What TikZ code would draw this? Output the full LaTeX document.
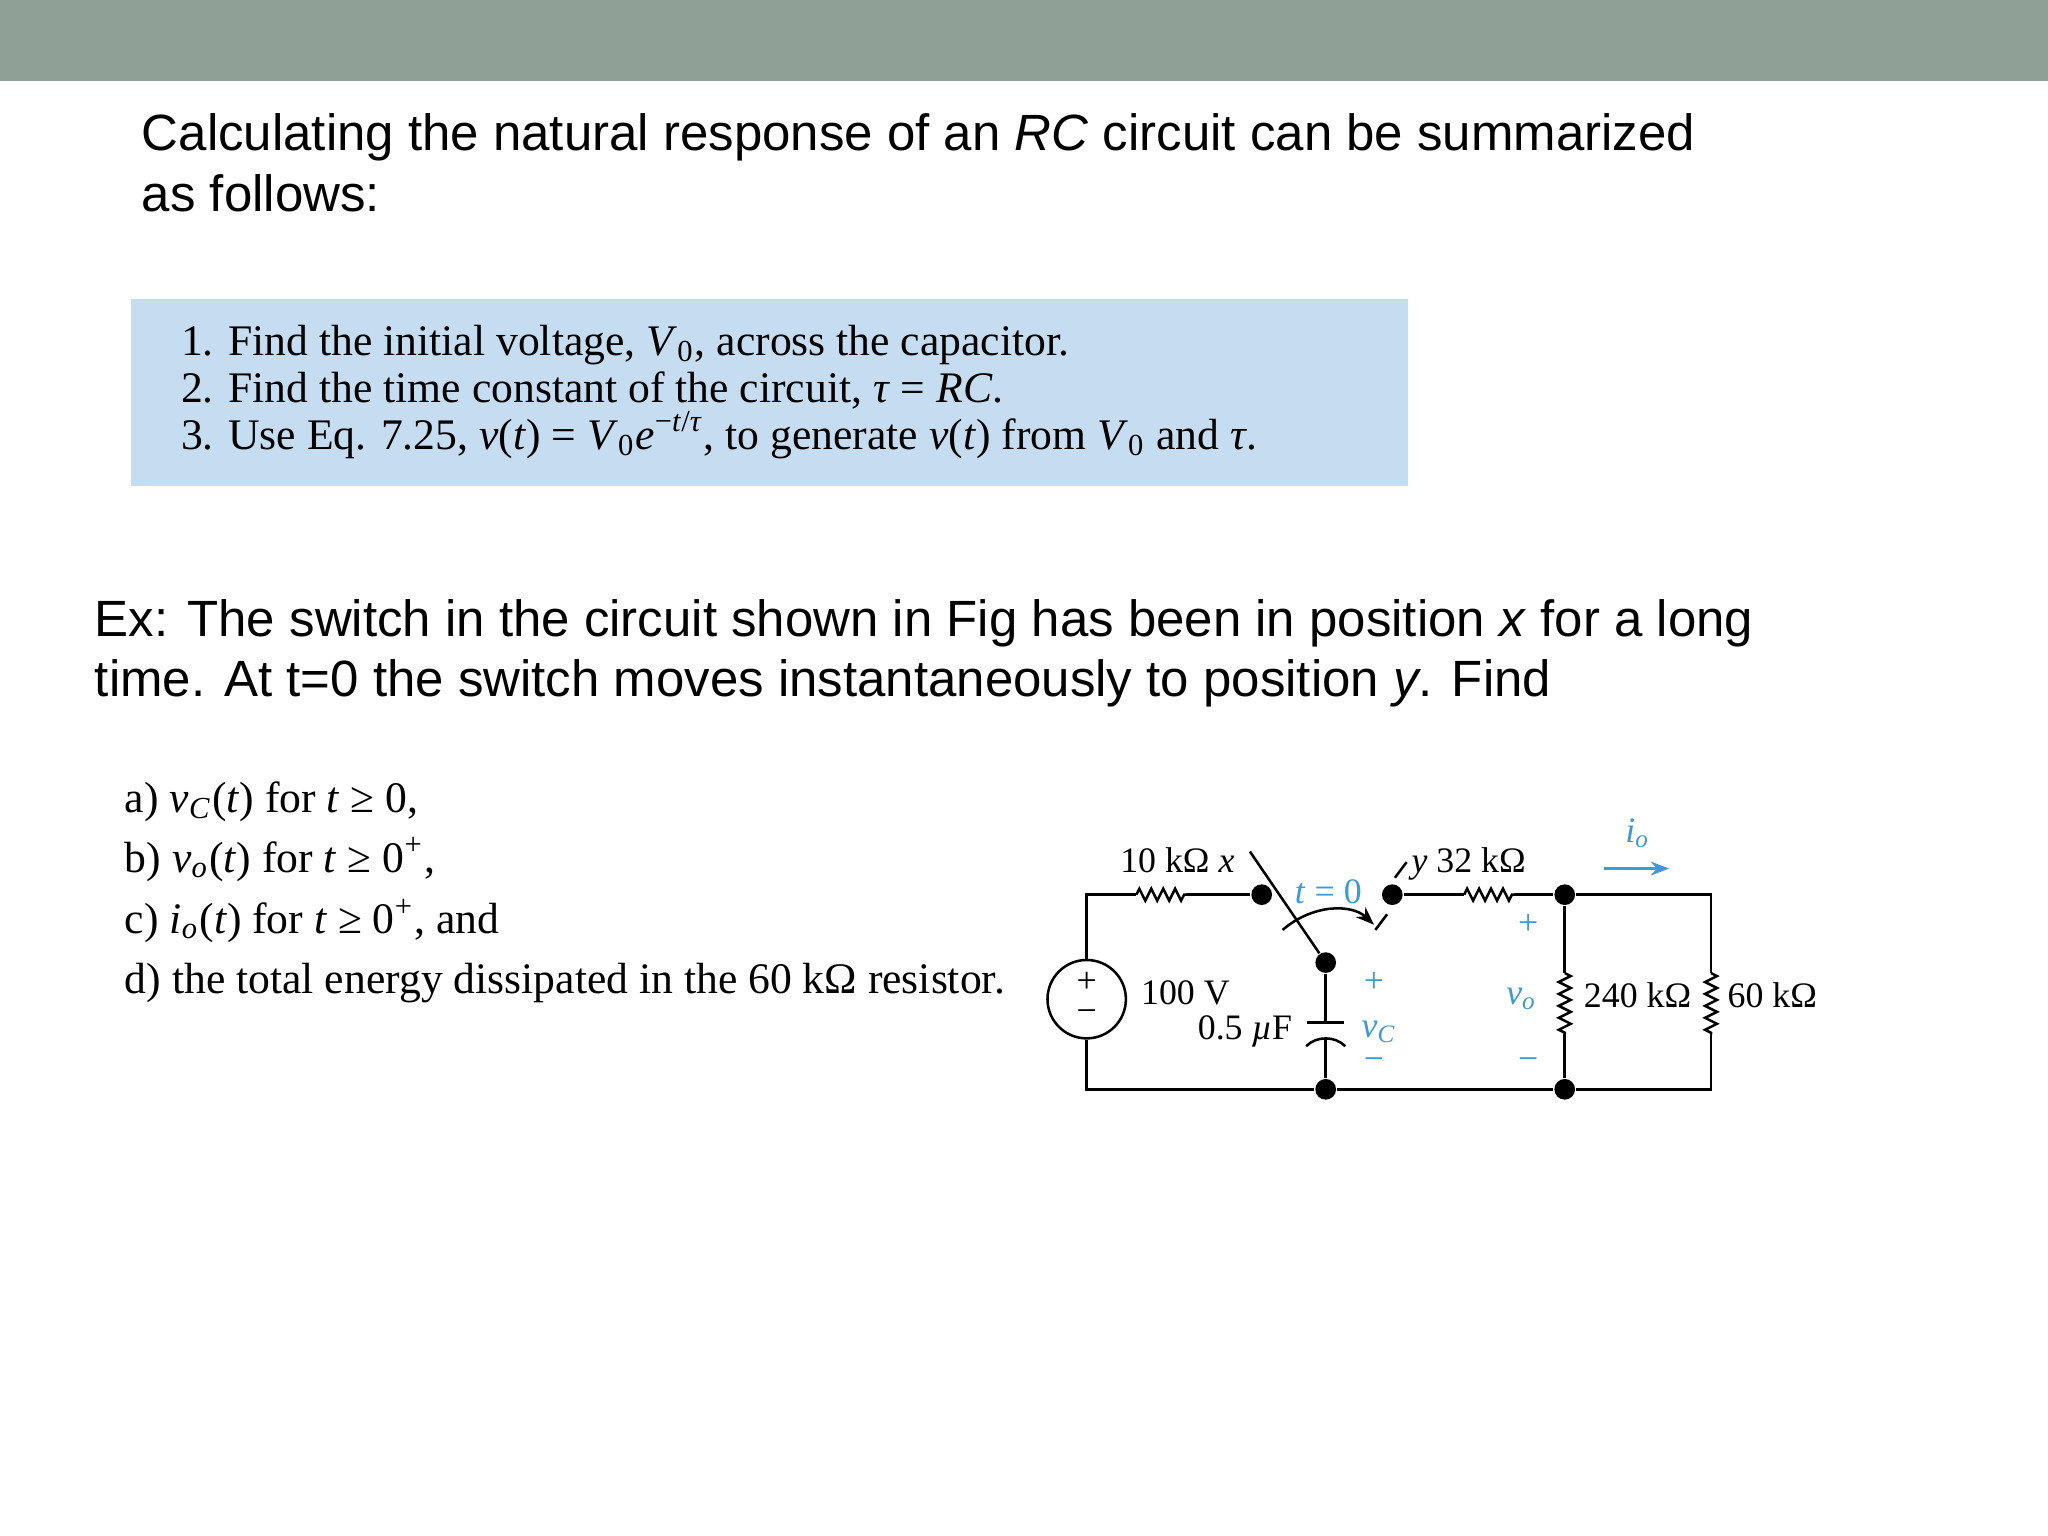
\documentclass[tikz,border=0pt]{standalone}
\usepackage{fontspec}
\setmainfont{Liberation Serif}
\newfontfamily\hsans{Liberation Sans}
\usetikzlibrary{decorations.pathmorphing,arrows.meta}
\definecolor{band}{HTML}{8FA096}
\definecolor{boxblue}{HTML}{C6DDF1}
\definecolor{cblue}{HTML}{3E9AD0}
\tikzset{
  head/.style={anchor=base west,inner sep=0,font=\hsans\fontsize{11.1}{13}\selectfont},
  boxt/.style={anchor=base west,inner sep=0,font=\fontsize{9.5}{11}\selectfont},
  ct/.style={inner sep=0,font=\fontsize{7.8}{9}\selectfont},
  bt/.style={inner sep=0,text=cblue,font=\fontsize{7.8}{9}\selectfont},
  wire/.style={line width=0.55pt},
  res/.style={wire,decorate,decoration={zigzag,segment length=2.6pt,amplitude=1.3pt}},
  dot/.style={circle,fill,inner sep=0,minimum size=4.5pt}
}
\begin{document}
\begin{tikzpicture}[x=0.01cm,y=-0.01cm]
\useasboundingbox (0,0) rectangle (1568,1176);
\fill[band] (0,0) rectangle (1568,62);
\node[head] (h1) at (108,115) {Calculating the natural response of an \textit{RC} circuit can be summarized};
\node[head] (h2) at (108,162) {as follows:};
\fill[boxblue] (100,229) rectangle (1078,372);
\node[boxt] (b1) at (138,272) {1. Find the initial voltage, \textit{V}\textsubscript{0}, across the capacitor.};
\node[boxt] (b2) at (138,308) {2. Find the time constant of the circuit, \textit{τ} = \textit{RC}.};
\node[boxt] (b3) at (138,344) {3. Use Eq. 7.25, \textit{v}(\textit{t}) = \textit{V}\textsubscript{0}\textit{e}\textsuperscript{−\textit{t}/\textit{τ}}, to generate \textit{v}(\textit{t}) from \textit{V}\textsubscript{0} and \textit{τ}.};
\node[head] (e1) at (72,487) {Ex: The switch in the circuit shown in Fig has been in position \textit{x} for a long};
\node[head] (e2) at (72,533) {time. At t=0 the switch moves instantaneously to position \textit{y}. Find};
\node[boxt] (l1) at (95,622) {a) \textit{v}\textsubscript{\textit{C}}(\textit{t}) for \textit{t} ≥ 0,};
\node[boxt] (l2) at (95,668) {b) \textit{v}\textsubscript{\textit{o}}(\textit{t}) for \textit{t} ≥ 0\textsuperscript{+},};
\node[boxt] (l3) at (95,715) {c) \textit{i}\textsubscript{\textit{o}}(\textit{t}) for \textit{t} ≥ 0\textsuperscript{+}, and};
\node[boxt] (l4) at (95,761) {d) the total energy dissipated in the 60 kΩ resistor.};
% circuit
\coordinate (tl) at (832,685);
\coordinate (bl) at (832,834);
\coordinate (r1a) at (870,685);
\coordinate (r1b) at (908,685);
\node[dot] (nx) at (966,685) {};
\node[dot] (np) at (1015,737) {};
\node[dot] (ny) at (1066,685) {};
\coordinate (r2a) at (1121,685);
\coordinate (r2b) at (1159,685);
\node[dot] (nt) at (1198,685) {};
\coordinate (tr) at (1310,685);
\node[dot] (nb1) at (1015,834) {};
\node[dot] (nb2) at (1198,834) {};
\coordinate (br) at (1310,834);
\node[draw,wire,circle,minimum size=60pt*0.2845,inner sep=0] (src) at (832,765) {};
\coordinate (c1) at (1015,783);
\coordinate (r3a) at (1198,745);
\coordinate (r3b) at (1198,792);
\coordinate (r4a) at (1310,745);
\coordinate (r4b) at (1310,792);
\draw[wire] (src.north) -- (tl) -- (r1a);
\draw[res] (r1a) -- (r1b);
\draw[wire] (r1b) -- (nx);
\draw[wire] (ny) -- (r2a);
\draw[res] (r2a) -- (r2b);
\draw[wire] (r2b) -- (nt) -- (tr) -- (r4a);
\draw[res] (r4a) -- (r4b);
\draw[wire] (r4b) -- (br) -- (nb2) -- (nb1) -- (bl) -- (src.south);
\draw[wire] (nt) -- (r3a);
\draw[res] (r3a) -- (r3b);
\draw[wire] (r3b) -- (nb2);
\draw[wire] (np) -- (c1);
\draw[wire] (1001,783) -- (1029,783);
\draw[wire] (1000,801) .. controls (1008,793) and (1022,793) .. (1030,801);
\draw[wire] (1015,794) -- (nb1);
\coordinate (sw) at (957,652);
\draw[wire] (np) -- (sw);
\coordinate (sy1) at (1053,712);
\coordinate (sy2) at (1062,700);
\draw[wire] (sy1) -- (sy2);
\coordinate (aa) at (982,712);
\coordinate (ab) at (1052,708);
\draw[wire,-{Stealth[length=4pt]}] (aa) .. controls (1005,692) and (1035,692) .. (ab);
\node[ct] at (832,752) {+};
\node[ct] at (832,778) {−};
\node[ct,anchor=west] (lv) at (873,760) {100 V};
\node[ct,anchor=east] (lc) at (990,790) {0.5 \textit{µ}F};
\node[ct,anchor=base west] (lr1) at (857,668) {10 kΩ \textit{x}};
\node[ct,anchor=base west] (lr2) at (1080,668) {\textit{y} 32 kΩ};
\draw[wire] (1068,672) -- (1077,660);
\node[ct,anchor=west] (lr3) at (1212,762) {240 kΩ};
\node[ct,anchor=west] (lr4) at (1322,762) {60 kΩ};
\node[bt] (t0) at (1017,683) {\textit{t} = 0};
\node[bt] (vcp) at (1052,752) {+};
\node[bt] (vc) at (1056,790) {\textit{v}\textsubscript{\textit{C}}};
\node[bt] (vcm) at (1052,815) {−};
\node[bt] (vop) at (1170,708) {+};
\node[bt] (vo) at (1165,765) {\textit{v}\textsubscript{\textit{o}}};
\node[bt] (vom) at (1170,815) {−};
\node[bt] (io) at (1254,638) {\textit{i}\textsubscript{\textit{o}}};
\coordinate (ia) at (1228,665);
\coordinate (ib) at (1278,665);
\draw[cblue,line width=0.7pt,-{Stealth[length=4pt]}] (ia) -- (ib);
\end{tikzpicture}
\end{document}
